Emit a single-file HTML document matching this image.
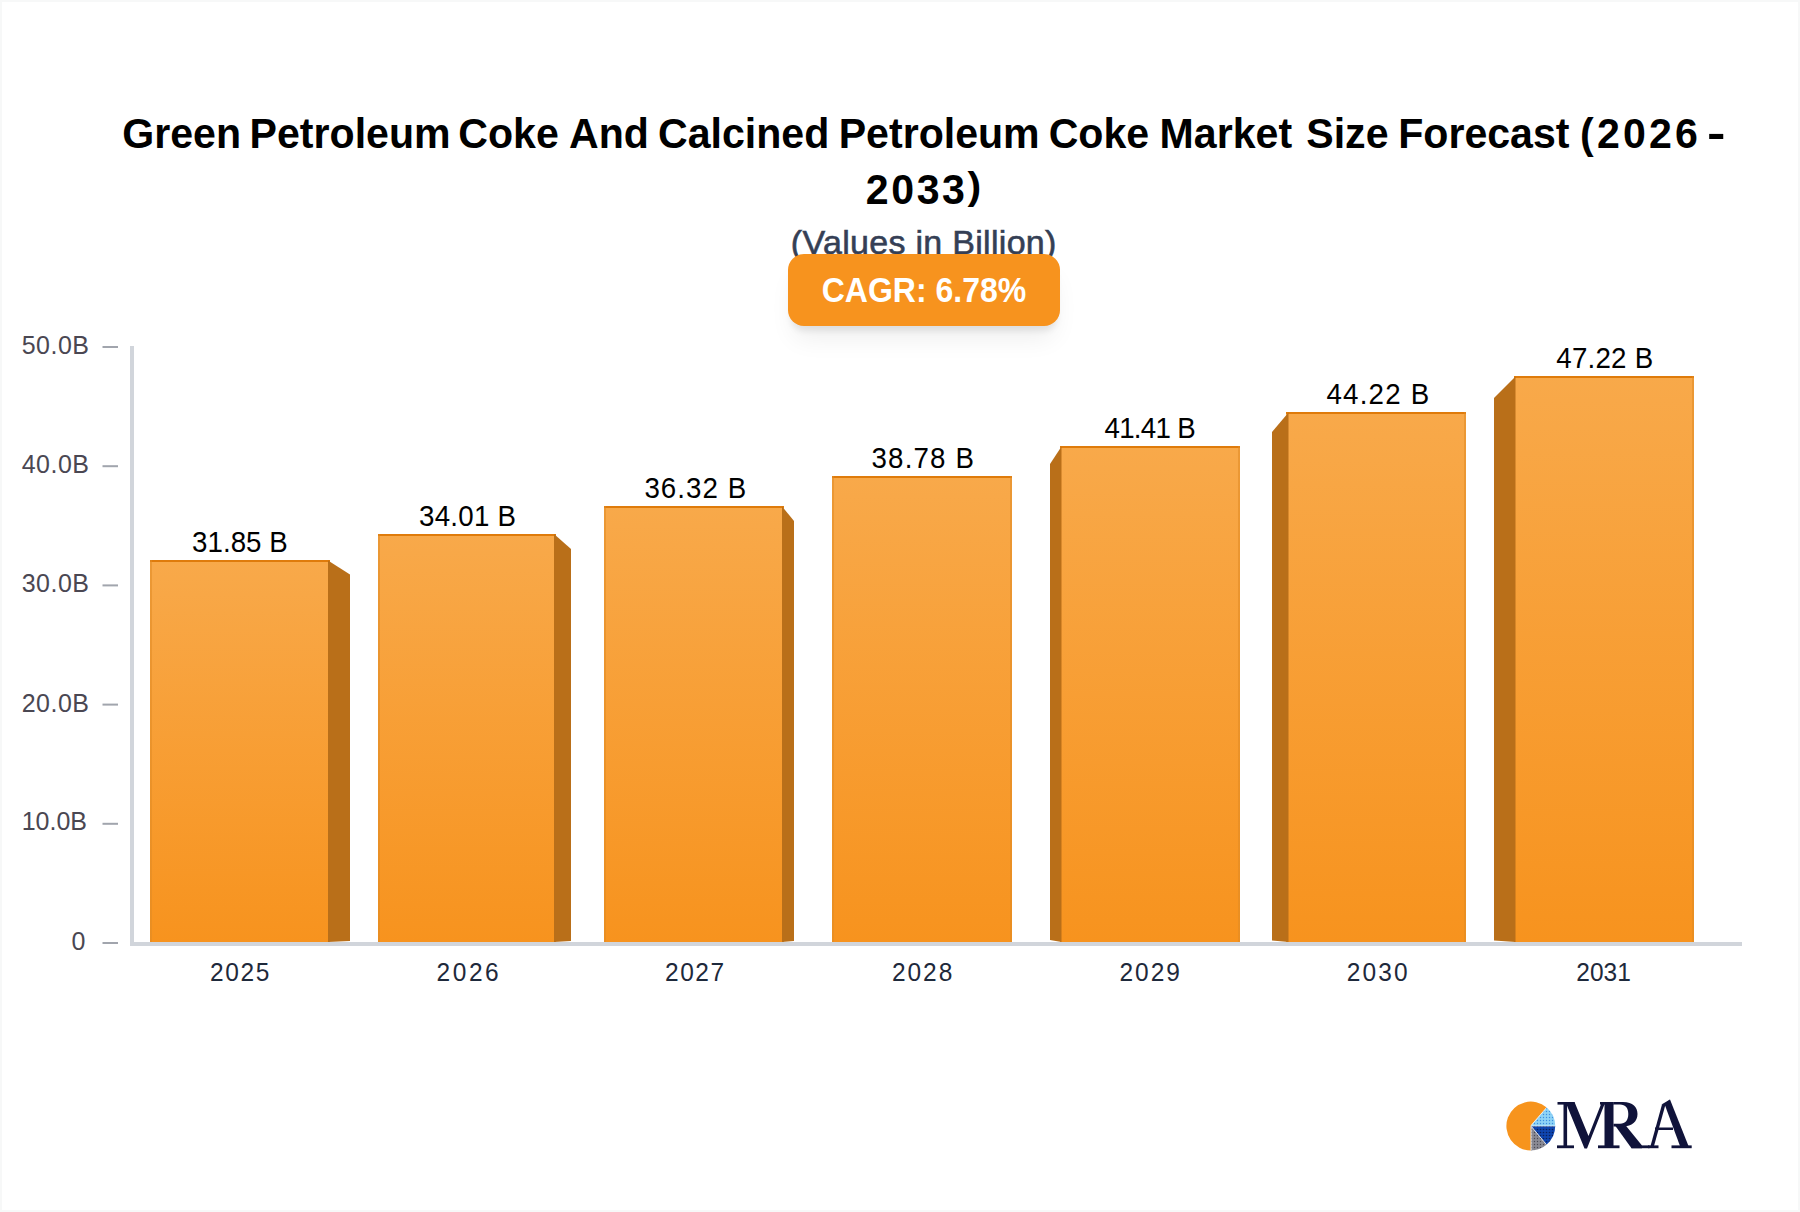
<!DOCTYPE html>
<html>
<head>
<meta charset="utf-8">
<style>
html,body{margin:0;padding:0;background:#fff;}
body{width:1800px;height:1212px;position:relative;overflow:hidden;font-family:"Liberation Sans",sans-serif;}
.frame{position:absolute;left:0;top:0;width:1800px;height:1212px;box-sizing:border-box;border:2px solid #f7f8f8;}
.t{position:absolute;white-space:nowrap;}
#title{position:absolute;left:0;top:105.7px;width:1800px;height:120px;font-weight:bold;font-size:41.1px;line-height:55px;color:#000;transform:scaleY(1.05);transform-origin:0 30px;white-space:nowrap;}
#title>span{position:absolute;top:0;}
#l2{position:absolute;left:0;top:54.3px;width:1847px;text-align:center;}
#l2 span{letter-spacing:2.6px;margin-right:-2.6px;}
.rp{display:inline-block;font-weight:bold;transform:translateY(-1.9px) scaleY(0.9);transform-origin:0 14px;}
#sub{left:0;width:1847px;text-align:center;top:222px;font-size:34px;letter-spacing:0.3px;padding-left:0.3px;line-height:40px;color:#353f55;-webkit-text-stroke:0.6px #353f55;}
#badge{position:absolute;left:788px;top:254px;width:272px;height:72px;border-radius:16px;background:#f7931e;box-shadow:0 8px 6px -3px rgba(0,0,0,0.08),0 18px 26px -6px rgba(0,0,0,0.07);}
#badgetxt{left:788px;width:272px;text-align:center;top:271px;font-weight:bold;font-size:32px;line-height:40px;color:#fff;transform:scaleY(1.09);transform-origin:0 31px;}
.yl{position:absolute;right:1710.5px;letter-spacing:0.5px;font-size:25px;line-height:28px;color:#4a4752;text-align:right;white-space:nowrap;}
.xl{position:absolute;width:200px;text-align:center;font-size:24.5px;line-height:28px;color:#1e293b;top:959px;transform:scaleY(1.04);transform-origin:0 22px;}
.vl{position:absolute;width:200px;text-align:center;font-size:27.7px;line-height:32px;color:#000;transform:scaleY(1.095);transform-origin:0 25px;}
</style>
</head>
<body>
<div class="frame"></div>
<div id="title"><span style="left:122.3px">Green</span><span style="left:249.6px">Petroleum</span><span style="left:458.3px">Coke</span><span style="left:569.0px">And</span><span style="left:658.0px">Calcined</span><span style="left:838.7px">Petroleum</span><span style="left:1048.7px">Coke</span><span style="left:1159.6px">Market</span><span style="left:1306.3px">Size</span><span style="left:1398.2px">Forecast</span><span style="left:1580.0px;letter-spacing:3.2px">(2026</span><span style="left:1706.5px;transform:scaleX(1.35);transform-origin:0 0">-</span><div id="l2"><span>2033<b class="rp">)</b></span></div></div>
<div id="sub" class="t">(Values in Billion)</div>
<div id="badge"></div>
<div id="badgetxt" class="t">CAGR: 6.78%</div>
<svg width="1800" height="1212" style="position:absolute;left:0;top:0">
<defs><linearGradient id="g" x1="0" y1="0" x2="0" y2="1"><stop offset="0" stop-color="#f8a94a"/><stop offset="1" stop-color="#f7931e"/></linearGradient></defs>
<rect x="130" y="346" width="4" height="600" fill="#d1d5db"/>
<rect x="130" y="942" width="1612" height="4" fill="#d1d5db"/>
<g fill="#a1a5ad"><rect x="102.5" y="942.0" width="15.5" height="2"/><rect x="102.5" y="822.8" width="15.5" height="2"/><rect x="102.5" y="703.6" width="15.5" height="2"/><rect x="102.5" y="584.4" width="15.5" height="2"/><rect x="102.5" y="465.2" width="15.5" height="2"/><rect x="102.5" y="346.0" width="15.5" height="2"/></g>
<rect x="150" y="560" width="180" height="382" fill="url(#g)"/>
<rect x="150" y="560" width="180" height="2" fill="#df7b0b"/>
<rect x="150" y="560" width="2" height="382" fill="#e08a25" opacity="0.55"/>
<polygon points="328,560.5 350,574.5 350,941 328,942" fill="#b96f19"/>
<rect x="378" y="534" width="178" height="408" fill="url(#g)"/>
<rect x="378" y="534" width="178" height="2" fill="#df7b0b"/>
<rect x="378" y="534" width="2" height="408" fill="#e08a25" opacity="0.55"/>
<polygon points="554,534 571,549 571,941 554,942" fill="#b96f19"/>
<rect x="604" y="506" width="180" height="436" fill="url(#g)"/>
<rect x="604" y="506" width="180" height="2" fill="#df7b0b"/>
<rect x="604" y="506" width="2" height="436" fill="#e08a25" opacity="0.55"/>
<polygon points="782,506.3 794,521 794,941 782,942" fill="#b96f19"/>
<rect x="832" y="476" width="180" height="466" fill="url(#g)"/>
<rect x="832" y="476" width="180" height="2" fill="#df7b0b"/>
<rect x="832" y="476" width="2" height="466" fill="#e08a25" opacity="0.55"/>
<rect x="1010" y="476" width="2" height="466" fill="#e08a25" opacity="0.55"/>
<rect x="1060" y="446" width="180" height="496" fill="url(#g)"/>
<rect x="1060" y="446" width="180" height="2" fill="#df7b0b"/>
<rect x="1238" y="446" width="2" height="496" fill="#e08a25" opacity="0.55"/>
<polygon points="1061.5,446.5 1050,464 1050,940 1061.5,942" fill="#b96f19"/>
<rect x="1286" y="412" width="180" height="530" fill="url(#g)"/>
<rect x="1286" y="412" width="180" height="2" fill="#df7b0b"/>
<rect x="1464" y="412" width="2" height="530" fill="#e08a25" opacity="0.55"/>
<polygon points="1288.5,412.6 1272,432 1272,940.5 1288.5,942" fill="#b96f19"/>
<rect x="1514" y="376" width="180" height="566" fill="url(#g)"/>
<rect x="1514" y="376" width="180" height="2" fill="#df7b0b"/>
<rect x="1692" y="376" width="2" height="566" fill="#e08a25" opacity="0.55"/>
<polygon points="1515.5,376.5 1494,398 1494,940.5 1515.5,942" fill="#b96f19"/>
<defs>
<pattern id="pd1" width="3" height="3" patternUnits="userSpaceOnUse"><rect width="3" height="3" fill="#8ed3f6"/><circle cx="1.5" cy="1.5" r="0.7" fill="#3d8fe0"/></pattern>
<pattern id="pd2" width="3" height="3" patternUnits="userSpaceOnUse"><rect width="3" height="3" fill="#0e45b0"/><circle cx="1.5" cy="1.5" r="0.8" fill="#0a1f5a"/></pattern>
<pattern id="pd3" width="3" height="3" patternUnits="userSpaceOnUse"><rect width="3" height="3" fill="#8a8a94"/><circle cx="1.5" cy="1.5" r="0.7" fill="#4a4a55"/></pattern>
</defs>
<g id="logo">
<path d="M1530.8,1126 L1530.8,1150.4 A24.4,24.4 0 1 1 1546.68,1107.48 Z" fill="#f7941d"/>
<path d="M1530.8,1126 L1546.68,1107.48 A24.4,24.4 0 0 1 1555.2,1126 Z" fill="url(#pd1)"/>
<path d="M1530.8,1126 L1555.2,1126 A24.4,24.4 0 0 1 1546.48,1144.69 Z" fill="url(#pd2)"/>
<path d="M1530.8,1126 L1546.48,1144.69 A24.4,24.4 0 0 1 1530.8,1150.4 Z" fill="url(#pd3)"/>
<path d="M1531.5,1126 L1555.2,1126 M1531.5,1126.5 L1546.48,1144.69 M1531.2,1126 L1531.2,1150.4 M1531,1125.5 L1546.68,1107.48" stroke="#fff" stroke-width="0.9" opacity="0.8"/>
<g fill="#10133a">
<rect x="1563.5" y="1103" width="3.6" height="43"/>
<rect x="1557.5" y="1102" width="17" height="2.6"/>
<rect x="1557" y="1145.4" width="17" height="2.8"/>
<polygon points="1565.5,1102 1574.5,1102 1588.5,1136 1601.5,1103 1605,1103 1587,1148.5 1584.5,1148.5"/>
<rect x="1604.5" y="1102" width="9" height="46"/>
<rect x="1600" y="1102" width="13.5" height="2.6"/>
<rect x="1598" y="1145.4" width="21.5" height="2.8"/>
<path d="M1613.5,1102 L1623,1102 C1633,1102 1637.5,1107 1637.5,1114 C1637.5,1121.5 1632,1126.5 1623,1126.5 L1613.5,1126.5 L1613.5,1123.8 L1620,1123.8 C1625.5,1123.8 1628.3,1120 1628.3,1114 C1628.3,1108 1625.5,1104.6 1620,1104.6 L1613.5,1104.6 Z"/>
<polygon points="1614,1124 1624.5,1124 1642,1145.4 1642,1148.2 1631.5,1148.2"/>
<rect x="1631.5" y="1145.4" width="18" height="2.8"/>
<polygon points="1664.5,1104 1670,1099.5 1688.5,1146 1680,1146"/>
<polygon points="1661.5,1104.5 1670,1099.5 1667,1106"/>
<polygon points="1662,1104.5 1665.5,1104.5 1654,1146 1650.5,1146"/>
<rect x="1655" y="1127.5" width="18" height="2.5"/>
<rect x="1648" y="1145.4" width="10.5" height="2.8"/>
<rect x="1671.5" y="1145.4" width="20.2" height="2.8"/>
</g>
</g>
</svg>
<div class="yl" style="top:331px">50.0B</div>
<div class="yl" style="top:450px">40.0B</div>
<div class="yl" style="top:569px">30.0B</div>
<div class="yl" style="top:688.5px">20.0B</div>
<div class="yl" style="top:807px;right:1713px;letter-spacing:0">10.0B</div>
<div class="yl" style="top:927px;right:1714px">0</div>
<div class="vl" style="left:139.9px;top:526.5px;letter-spacing:0.05px;padding-left:0.05px">31.85 B</div>
<div class="xl" style="left:138.9px;letter-spacing:1.6px;padding-left:1.6px">2025</div>
<div class="vl" style="left:367.4px;top:500.5px;letter-spacing:0.28px;padding-left:0.28px">34.01 B</div>
<div class="xl" style="left:366.4px;letter-spacing:2.53px;padding-left:2.53px">2026</div>
<div class="vl" style="left:594.8px;top:472.5px;letter-spacing:1.07px;padding-left:1.07px">36.32 B</div>
<div class="xl" style="left:593.8px;letter-spacing:1.58px;padding-left:1.58px">2027</div>
<div class="vl" style="left:822.2px;top:442.5px;letter-spacing:1.17px;padding-left:1.17px">38.78 B</div>
<div class="xl" style="left:821.2px;letter-spacing:1.93px;padding-left:1.93px">2028</div>
<div class="vl" style="left:1049.7px;top:412.5px;letter-spacing:-0.72px;padding-left:-0.72px">41.41 B</div>
<div class="xl" style="left:1048.7px;letter-spacing:2.0px;padding-left:2.0px">2029</div>
<div class="vl" style="left:1277.2px;top:378.5px;letter-spacing:1.22px;padding-left:1.22px">44.22 B</div>
<div class="xl" style="left:1276.2px;letter-spacing:2.08px;padding-left:2.08px">2030</div>
<div class="vl" style="left:1504.6px;top:342.5px;letter-spacing:0.25px;padding-left:0.25px">47.22 B</div>
<div class="xl" style="left:1503.6px;letter-spacing:0.03px;padding-left:0.03px">2031</div>
</body>
</html>
